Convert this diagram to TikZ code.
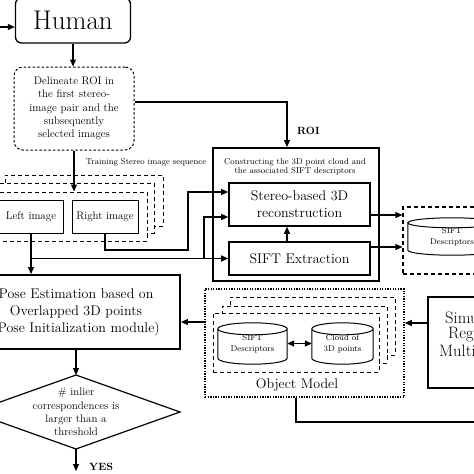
\documentclass[tikz,border=0pt]{standalone}
\usetikzlibrary{arrows.meta,calc}
\tikzset{
  sz/.style 2 args={minimum width=#1pt, minimum height=#2pt},
  box/.style={draw, line width=1.1pt, inner sep=0pt, align=center},
  thickbox/.style={box, line width=1.9pt},
  stk/.style={draw, fill=white, line width=0.9pt, dash pattern=on 4pt off 3pt, inner sep=0pt},
  dotbox/.style={draw, line width=1.5pt, dash pattern=on 1.3pt off 1.3pt, inner sep=0pt},
  cylbox/.style={inner sep=0pt, align=center, font=\fontsize{8.3}{11}\selectfont},
  cylline/.style={line width=1pt},
  arr/.style={line width=1.1pt, -{Triangle[length=7pt,width=6pt]}},
  darr/.style={line width=1.1pt, {Triangle[length=7pt,width=6pt]}-{Triangle[length=7pt,width=6pt]}},
  ln/.style={line width=1.1pt},
  big/.style={font=\fontsize{14}{17}\selectfont},
  bigger/.style={font=\fontsize{16.5}{17}\selectfont},
  mid/.style={font=\fontsize{11}{13.3}\selectfont},
  small/.style={font=\fontsize{8.5}{9.3}\selectfont},
  lbl/.style={font=\fontsize{10.5}{12}\selectfont\bfseries, inner sep=0pt},
}
\newcommand\mycyl[2]{%
  \draw[cylline] let \p1=(#1.north west), \p2=(#1.south east),
     \n1={(\x2-\x1)/2}, \n2={(\x1+\x2)/2} in
    (\x1,\y1-#2pt) -- (\x1,\y2+#2pt)
    arc[start angle=180,end angle=360,x radius=\n1,y radius=#2pt]
    -- (\x2,\y1-#2pt)
    (\n2,\y1-#2pt) ellipse[x radius=\n1,y radius=#2pt];}
\begin{document}
\begin{tikzpicture}[x=1pt,y=-1pt]
\useasboundingbox (0,0) rectangle (474,474);
\clip (0,0) rectangle (474,474);
\fill[white] (0,0) rectangle (474,474);

% Human
\node[box, line width=1.3pt, rounded corners=6pt, sz={115}{45},
      font=\fontsize{27}{30}\selectfont] (human) at (73,20.5) {Human};
\coordinate (hin) at (-2,27);
\draw[arr] (hin) -- (hin -| human.west);

% Delineate
\node[box, line width=1pt, dash pattern=on 2.5pt off 2pt, rounded corners=9pt,
      sz={120}{83}, mid] (delin) at (74,108.5)
      {Delineate ROI in\\the first stereo-\\image pair and the\\subsequently\\selected images};
\draw[arr] (human.south) -- (human.south |- delin.north);

% Construct box
\node[thickbox, sz={166}{133}] (cons) at (296,214.5) {};
\node[small, align=center, inner sep=0pt] (constitle) at (295,166.5)
      {Constructing the 3D point cloud and\\the associated SIFT descriptors};
\node[box, line width=1.6pt, sz={141}{43}, big] (stereo) at (299.5,204.5)
      {Stereo-based 3D\\reconstruction};
\node[box, line width=1.6pt, sz={141}{33}, big] (sift) at (299.5,258.5) {SIFT Extraction};

% ROI connector
\coordinate (roiC) at (287,102);
\draw[arr] (delin.east |- roiC) -| (cons.north -| roiC);
\node[lbl, anchor=west] (roi) at (297,131) {ROI};
\draw[arr] (sift.north -| roiC) -- (stereo.south -| roiC);

% SIFT descriptor storage (right)
\node[box, line width=1.1pt, dash pattern=on 4pt off 3pt, sz={100}{67}] (store) at (453,240.5) {};
\node[cylbox, sz={88}{37}] (scyl) at (452,236.5) {SIFT\\Descriptors};
\mycyl{scyl}{5}
\coordinate (so1) at ($(stereo.east)+(0,10.5)$);
\coordinate (so2) at ($(sift.east)+(0,-11.5)$);
\draw[arr] (so1) -- (store.west |- so1);
\draw[arr] (so2) -- (store.west |- so2);

% Training stack
\node[small, inner sep=0pt] (trainlbl) at (146,162) {Training Stereo image sequence};
\node[stk, sz={158}{51}] (stkC) at (84,200.5) {};
\node[stk, sz={157}{50}] (stkB) at (75.5,208) {};
\node[stk, sz={158}{49}] (stkA) at (68,216.5) {};
\node[box, line width=1pt, sz={64}{33}, mid] (limg) at (31,216.5) {Left image};
\node[box, line width=1pt, sz={66}{33}, mid] (rimg) at (105,216.5) {Right image};
\draw[arr] (delin.south) -- (delin.south |- stkA.north);

% Pose estimation
\node[thickbox, sz={208}{74}, big] (pose) at (76,312)
      {Pose Estimation based on\\Overlapped 3D points\\(Pose Initialization module)};

% connectors from images
\coordinate (sin1) at ($(stereo.west)+(0,-12.5)$);
\coordinate (sin2) at ($(stereo.west)+(0,12.5)$);
\coordinate (b1) at (limg.south |- sift.west);
\coordinate (b2x) at (204,0);
\coordinate (r1) at (188,250);
\draw[arr] (limg.south) -- (limg.south |- pose.north);
\draw[arr] (b1) -- (sift.west);
\draw[arr] (b2x |- sift.west) |- (sin2);
\draw[arr] (rimg.south) |- (r1) |- (sin1);

% Decision diamond
\node[mid, align=center, inner sep=0pt] (dec) at (76,412)
      {\# inlier\\correspondences is\\larger than a\\threshold};
\coordinate (decN) at (76,375);
\coordinate (decE) at (180,412);
\coordinate (decS) at (76,449);
\coordinate (decW) at (-28,412);
\draw[line width=1.2pt] (decN) -- (decE) -- (decS) -- (decW) -- cycle;
\draw[arr] (pose.south) -- (decN);
\coordinate (yesEnd) at (76,471);
\draw[arr] (decS) -- (yesEnd);
\node[lbl, anchor=west] (yes) at (89,467) {YES};

% Object model
\node[dotbox, sz={199}{108}] (om) at (304.5,343) {};
\node[stk, sz={165}{58}] (omC) at (312.5,326) {};
\node[stk, sz={165}{57}] (omB) at (304.5,334.5) {};
\node[stk, sz={166}{59}] (omA) at (296,342.5) {};
\node[cylbox, sz={69}{41}] (c1) at (252.5,343.5) {SIFT\\Descriptors};
\node[cylbox, sz={61}{41}] (c2) at (342.5,343.5) {Cloud of\\3D points};
\mycyl{c1}{6}
\mycyl{c2}{6}
\draw[darr] (c1.east) -- (c2.west);
\node[big, inner sep=0pt] (omlbl) at (297,385) {Object Model};

\coordinate (y322) at (0,322);
\draw[arr] (om.west |- y322) -- (pose.east |- y322);

% Right box (cut off by the picture edge)
\node[thickbox, sz={132}{91}] (rbox) at (494,342.5) {};
\node[bigger, anchor=west, inner sep=0pt] (rt1) at (445,318) {Simultaneous};
\node[bigger, anchor=west, inner sep=0pt] (rt2) at (448,335) {Registration};
\node[bigger, anchor=west, inner sep=0pt] (rt3) at (439,352) {Multiple};
\coordinate (y323) at (0,323);
\draw[arr] (rbox.west |- y323) -- (om.east |- y323);

% Object model bottom line
\coordinate (omEnd) at (480,422);
\draw[ln] (omA.south |- om.south) |- (omEnd);
\end{tikzpicture}
\end{document}
